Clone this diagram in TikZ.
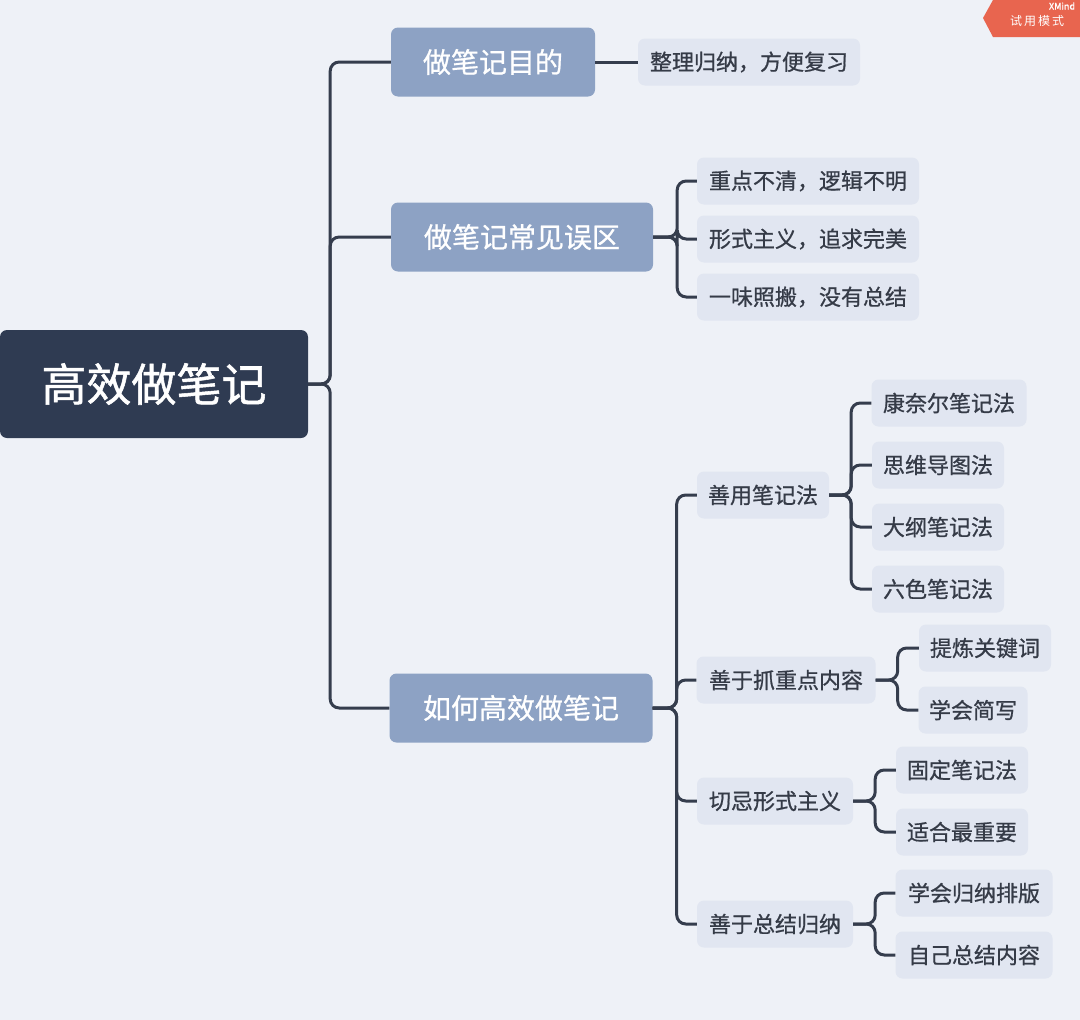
\documentclass[tikz,border=0pt]{standalone}
\usepackage{fontspec}
\setmainfont{Noto Sans CJK SC}
\newfontfamily\cjkmed{Noto Sans CJK SC}[FakeBold=0.8]
\newfontfamily\cjkhv{Noto Sans CJK SC}[FakeBold=1.2]
\definecolor{bg}{HTML}{EEF1F7}
\definecolor{rootc}{HTML}{2F3B52}
\definecolor{mainc}{HTML}{8DA2C4}
\definecolor{subc}{HTML}{E1E6F1}
\definecolor{txt}{HTML}{353B47}
\definecolor{linec}{HTML}{353D4D}
\definecolor{badge}{HTML}{E8654F}
\begin{document}
\begin{tikzpicture}[x=1pt,y=-1pt,
  rootbox/.style={fill=rootc,text=white,rounded corners=7pt,minimum width=308pt,minimum height=108pt,inner sep=0pt,font=\cjkhv\fontsize{45}{50}\selectfont},
  mainbox/.style={fill=mainc,text=white,rounded corners=7pt,minimum height=69pt,inner sep=0pt,font=\cjkmed\fontsize{28}{32}\selectfont},
  subbox/.style={fill=subc,text=txt,rounded corners=7pt,minimum height=47pt,inner sep=0pt,font=\cjkmed\fontsize{22}{26}\selectfont},
  conn/.style={draw=linec,line width=3pt,rounded corners=9pt}]
\fill[bg] (0,0) rectangle (1080,1020);
\useasboundingbox (0,0) rectangle (1080,1020);

% badge
\fill[badge] (983,18) -- (993,0) -- (1080,0) -- (1080,37) -- (993,37) -- cycle;
\node[text=white,font=\cjkhv\fontsize{9}{10}\selectfont,inner sep=0pt] (bx) at (1062,6) {XMind};
\node[text=white,font=\fontsize{12}{13}\selectfont,inner sep=0pt] (bt) at (1037,21) {试\,用\,模\,式};

% nodes
\node[rootbox] (root) at (154,384) {高效做笔记};

\node[mainbox,minimum width=204pt] (m1) at (493,62) {做笔记目的};
\node[mainbox,minimum width=262pt] (m2) at (522,237) {做笔记常见误区};
\node[mainbox,minimum width=263pt] (m3) at (521,708) {如何高效做笔记};

\node[subbox,minimum width=222pt] (s1) at (749,62) {整理归纳，方便复习};
\node[subbox,minimum width=222pt] (s21) at (808,181) {重点不清，逻辑不明};
\node[subbox,minimum width=222pt] (s22) at (808,239) {形式主义，追求完美};
\node[subbox,minimum width=222pt] (s23) at (808,297) {一味照搬，没有总结};

\node[subbox,minimum width=132pt] (a1) at (763,495) {善用笔记法};
\node[subbox,minimum width=179pt] (a2) at (786,680) {善于抓重点内容};
\node[subbox,minimum width=156pt] (a3) at (775,801) {切忌形式主义};
\node[subbox,minimum width=156pt] (a4) at (775,924) {善于总结归纳};

\node[subbox,minimum width=155pt] (b11) at (949,403) {康奈尔笔记法};
\node[subbox,minimum width=132pt] (b12) at (938,465) {思维导图法};
\node[subbox,minimum width=132pt] (b13) at (938,527) {大纲笔记法};
\node[subbox,minimum width=132pt] (b14) at (938,589) {六色笔记法};

\node[subbox,minimum width=132pt] (b21) at (985,648) {提炼关键词};
\node[subbox,minimum width=109pt] (b22) at (973,710) {学会简写};

\node[subbox,minimum width=132pt] (b31) at (962,770) {固定笔记法};
\node[subbox,minimum width=132pt] (b32) at (962,832) {适合最重要};

\node[subbox,minimum width=157pt] (b41) at (974,893) {学会归纳排版};
\node[subbox,minimum width=157pt] (b42) at (974,955) {自己总结内容};

% connectors
\foreach \c in {m1,m2,m3} \draw[conn] (root.east) -- ++(22,0) |- (\c.west);
\draw[conn] (m1.east) -- (s1.west);
\foreach \c in {s21,s22,s23} \draw[conn] (m2.east) -- ++(24,0) |- (\c.west);
\foreach \c in {a1,a2,a3,a4} \draw[conn] (m3.east) -- ++(24,0) |- (\c.west);
\foreach \c in {b11,b12,b13,b14} \draw[conn] (a1.east) -- ++(22,0) |- (\c.west);
\foreach \c in {b21,b22} \draw[conn] (a2.east) -- ++(22,0) |- (\c.west);
\foreach \c in {b31,b32} \draw[conn] (a3.east) -- ++(22,0) |- (\c.west);
\foreach \c in {b41,b42} \draw[conn] (a4.east) -- ++(22,0) |- (\c.west);
\end{tikzpicture}
\end{document}
